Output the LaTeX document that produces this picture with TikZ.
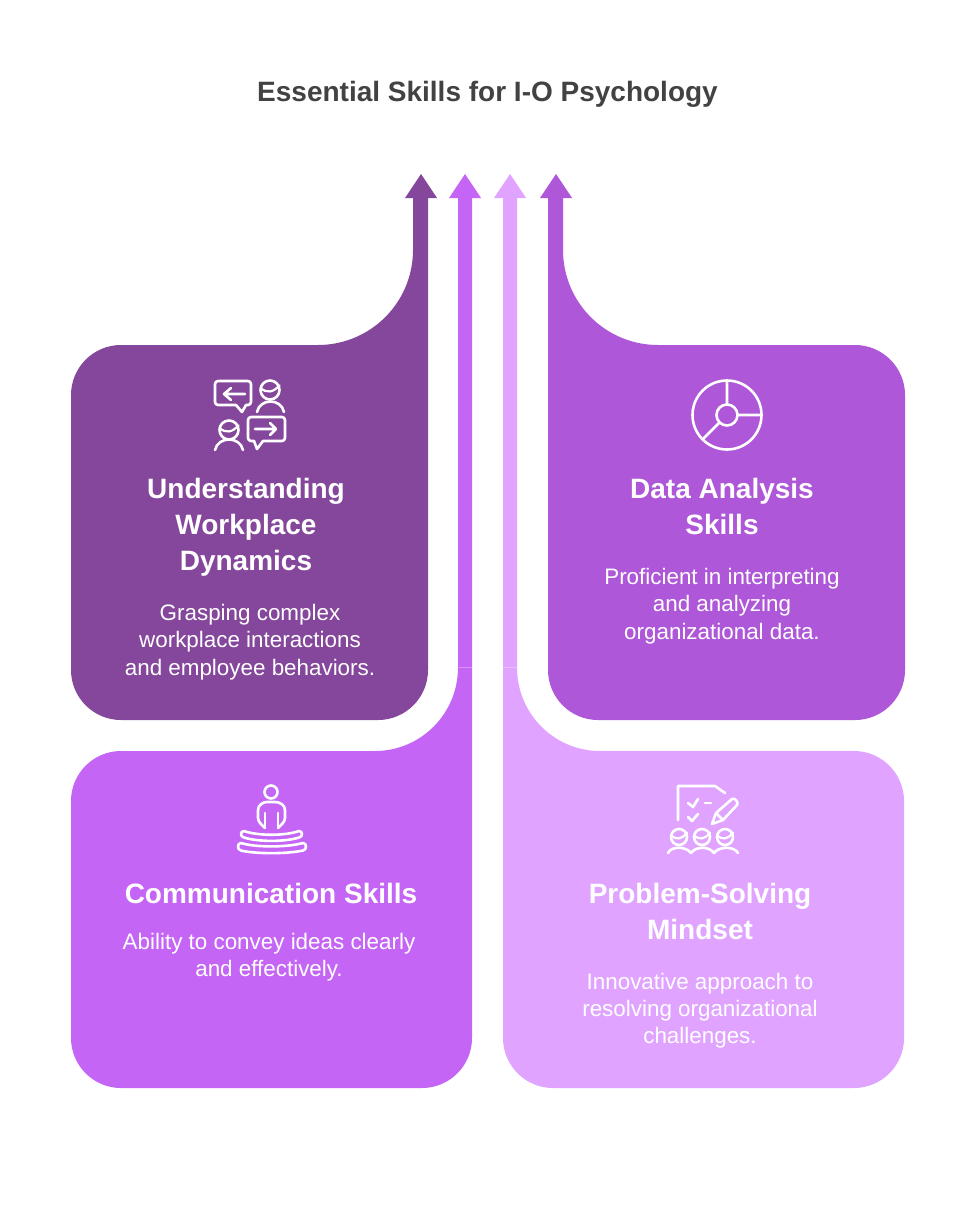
\documentclass[tikz,border=0pt]{standalone}
\usepackage{fontspec}
\setmainfont{Liberation Sans}
\definecolor{cdark}{HTML}{84479B}
\definecolor{cmid}{HTML}{C565F5}
\definecolor{clight}{HTML}{E0A3FF}
\definecolor{cdata}{HTML}{AE57D8}
\definecolor{ctitle}{HTML}{424242}
\newcommand{\personhead}[3]{%
  \draw[iconline] (#1,#2) circle[radius=#3];
  \draw[iconline,line width=2.2pt] (#1-#3,#2-2) .. controls (#1-3,#2+3.5) and (#1+3,#2+2.5) .. (#1+#3,#2-4.5);}
\tikzset{
  iconline/.style={draw=white,line width=2.6pt,line cap=round,line join=round,fill=none},
  headtext/.style={text=white,align=center,font=\fontsize{28}{36}\selectfont\bfseries},
  bodytext/.style={text=white,align=center,font=\fontsize{22.4}{27.2}\selectfont},
  titletext/.style={text=ctitle,font=\fontsize{28}{36}\selectfont\bfseries}
}
\begin{document}
\begin{tikzpicture}[x=1pt,y=-1pt]
\useasboundingbox (0,0) rectangle (975,1210);
\fill[white] (0,0) rectangle (975,1210);
% dark shape
\fill[cdark] (413,198) -- (405,198) -- (421,174) -- (437,198) -- (428,198) -- (428,670)
  .. controls (428,697.6) and (405.6,720) .. (378,720) -- (121,720)
  .. controls (93.4,720) and (71,697.6) .. (71,670) -- (71,395)
  .. controls (71,367.4) and (93.4,345) .. (121,345) -- (318,345)
  .. controls (370.5,345) and (413,302.5) .. (413,250) -- cycle;
% data shape
\fill[cdata] (563,198) -- (572,198) -- (556,174) -- (540,198) -- (548,198) -- (548,670)
  .. controls (548,697.6) and (570.4,720) .. (598,720) -- (855,720)
  .. controls (882.6,720) and (905,697.6) .. (905,670) -- (905,395)
  .. controls (905,367.4) and (882.6,345) .. (855,345) -- (658,345)
  .. controls (605.5,345) and (563,302.5) .. (563,250) -- cycle;
% communication shaft and body
\fill[cmid] (458,198) -- (449,198) -- (465,174) -- (481,198) -- (472,198) -- (472,667) -- (458,667) -- cycle;
\fill[cmid] (472,667.3) -- (472,1038)
  .. controls (472,1065.6) and (449.6,1088) .. (422,1088) -- (121,1088)
  .. controls (93.4,1088) and (71,1065.6) .. (71,1038) -- (71,801)
  .. controls (71,773.4) and (93.4,751) .. (121,751) -- (375,751)
  .. controls (420.8,751) and (458,713.8) .. (458,667.3) -- cycle;
% problem-solving shaft and body
\fill[clight] (517,198) -- (526,198) -- (510,174) -- (494,198) -- (503,198) -- (503,667) -- (517,667) -- cycle;
\fill[clight] (503,667.3) -- (503,1038)
  .. controls (503,1065.6) and (525.4,1088) .. (553,1088) -- (854,1088)
  .. controls (881.6,1088) and (904,1065.6) .. (904,1038) -- (904,801)
  .. controls (904,773.4) and (881.6,751) .. (854,751) -- (600,751)
  .. controls (554.2,751) and (517,713.8) .. (517,667.3) -- cycle;
% texts
\node[titletext] (title) at (487.5,94.5) {Essential Skills for I-O Psychology};
\node[headtext] (h1) at (246,527) {Understanding\\Workplace\\Dynamics};
\node[bodytext] (b1) at (250,642) {Grasping complex\\workplace interactions\\and employee behaviors.};
\node[headtext] (h2) at (722,506) {Data Analysis\\Skills};
\node[bodytext] (b2) at (722,606) {Proficient in interpreting\\and analyzing\\organizational data.};
\node[headtext] (h3) at (271,893) {Communication Skills};
\node[bodytext] (b3) at (269,957) {Ability to convey ideas clearly\\and effectively.};
\node[headtext] (h4) at (700,911) {Problem-Solving\\Mindset};
\node[bodytext] (b4) at (700,1010.5) {Innovative approach to\\resolving organizational\\challenges.};
% icon: workplace dynamics
\draw[iconline,rounded corners=3pt] (236,405) -- (215,405) -- (215,381) -- (251,381) -- (251,405) -- (246,405);
\draw[iconline] (236,405) -- (242,412) -- (246,405);
\draw[iconline] (245,394) -- (224,394) (231,388) -- (224,394) -- (231,400);
\personhead{270}{390}{9.5}
\draw[iconline] (257,412) .. controls (260,398) and (281,398) .. (284,412);
\personhead{229}{430}{9.5}
\draw[iconline] (215,450) .. controls (218,436) and (240,436) .. (243,450);
\draw[iconline,rounded corners=3pt] (254,441) -- (248,441) -- (248,417) -- (285,417) -- (285,441) -- (263,441);
\draw[iconline] (254,441) -- (257,449) -- (263,441);
\draw[iconline] (255,429) -- (276,429) (270,423) -- (276,429) -- (270,435);
% icon: data analysis
\draw[iconline] (727,415) circle[radius=34.5];
\draw[iconline] (727,415) circle[radius=10.5];
\draw[iconline] (727,381) -- (727,404.5) (737.5,415) -- (761,415) (719.5,422.5) -- (703,439);
% icon: communication
\draw[iconline] (271,792) circle[radius=6.5];
\draw[iconline] (265,828) .. controls (262,825) and (258,822) .. (258,818) -- (258,810)
  .. controls (258,805) and (263,802) .. (267,802) -- (275,802)
  .. controls (280,802) and (285,805) .. (285,810) -- (285,818)
  .. controls (285,822) and (281,825) .. (278,828);
\draw[iconline] (265,813) -- (265,828) (278,813) -- (278,828);
\draw[iconline] (244,831) .. controls (258,836) and (285,836) .. (299,831)
  .. controls (303,831) and (303,837) .. (299,837.5)
  .. controls (285,842) and (258,842) .. (244,837.5)
  .. controls (240,837) and (240,831) .. (244,831) -- cycle;
\draw[iconline] (241,843) .. controls (255,847.5) and (287,847.5) .. (303,843)
  .. controls (307,843) and (307,850) .. (303,850.5)
  .. controls (287,854) and (255,854) .. (241,850.5)
  .. controls (237,850) and (237,843) .. (241,843) -- cycle;
% icon: problem solving
\draw[iconline] (678,820) -- (678,786) -- (715,786) -- (725,793);
\draw[iconline] (688,803) -- (693,807) -- (698,799);
\draw[iconline] (705,803) -- (711,803);
\draw[iconline] (688,817) -- (692,821) -- (698,814);
\draw[iconline] (712,824) -- (716,813) -- (732,799) .. controls (735,797) and (739,803) .. (737,805) -- (723,820) -- cycle;
\draw[iconline] (716,813) -- (723,820);
\personhead{679}{837}{8}
\personhead{702}{837}{8}
\personhead{725}{837}{8}
\draw[iconline] (668,853) .. controls (671,846) and (686,846) .. (691,853)
  .. controls (696,846) and (709,846) .. (714,853)
  .. controls (719,846) and (734,846) .. (738,853);
\end{tikzpicture}
\end{document}
